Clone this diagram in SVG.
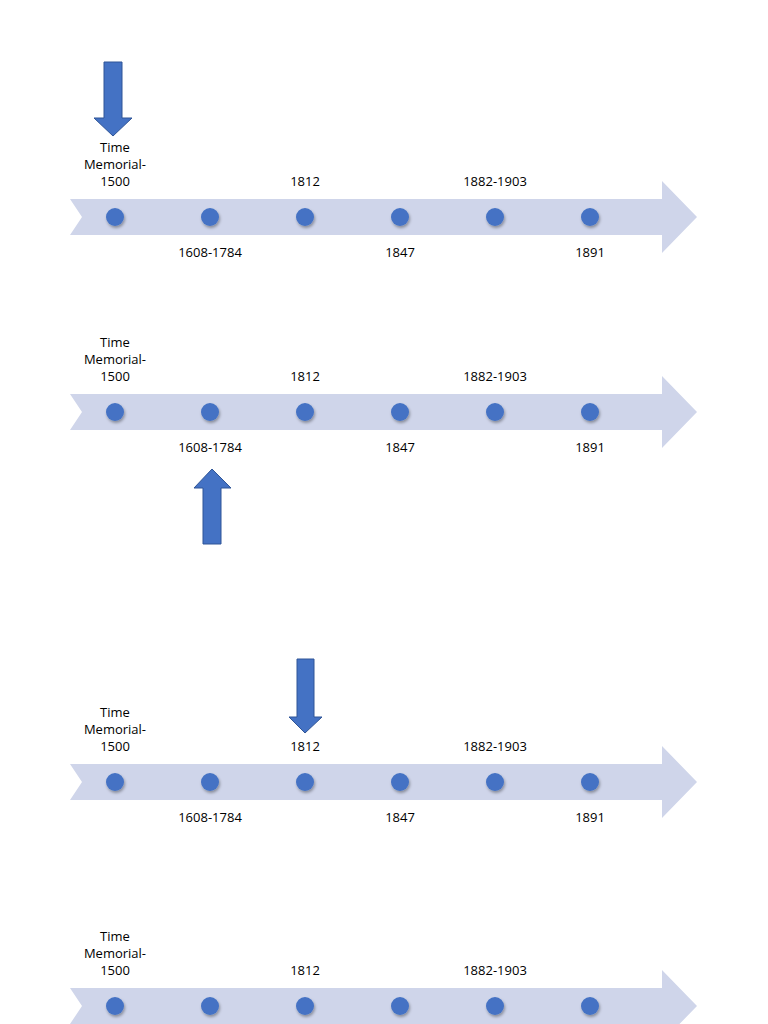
<svg xmlns="http://www.w3.org/2000/svg" width="768" height="1024" viewBox="0 0 768 1024">
<style>
.band{fill:#CFD5EA}
.dot{fill:#4472C4;filter:url(#sh)}
.t{font-family:"Open Sans","Liberation Sans",sans-serif;font-size:13px;fill:#000;text-anchor:middle}
.arr{fill:#4472C4;stroke:#2F5597;stroke-width:1}
</style>
<defs>
<filter id="sh" x="-50%" y="-50%" width="200%" height="200%"><feDropShadow dx="1" dy="2" stdDeviation="1.5" flood-color="#000" flood-opacity="0.35"/></filter>
<g id="tl">
<polygon class="band" points="70,-18 662,-18 662,-36 697,0 662,36 662,18 70,18 82,0"/>
<circle class="dot" cx="115" cy="0" r="9"/><circle class="dot" cx="210" cy="0" r="9"/><circle class="dot" cx="305" cy="0" r="9"/><circle class="dot" cx="400" cy="0" r="9"/><circle class="dot" cx="495" cy="0" r="9"/><circle class="dot" cx="590" cy="0" r="9"/>
<text class="t" x="115" y="-65">Time</text><text class="t" x="115" y="-48">Memorial-</text><text class="t" x="115" y="-31">1500</text>
<text class="t" x="305" y="-31">1812</text><text class="t" x="495" y="-31">1882-1903</text>
<text class="t" x="210" y="40">1608-1784</text><text class="t" x="400" y="40">1847</text><text class="t" x="590" y="40">1891</text>
</g>
</defs>
<g id="timeline1"><use href="#tl" y="217"/></g>
<g id="timeline2"><use href="#tl" y="412"/></g>
<g id="timeline3"><use href="#tl" y="782"/></g>
<g id="timeline4"><use href="#tl" y="1006"/></g>
<g id="connectors">
<polygon class="arr" points="104,62 122,62 122,118 132,118 113,136 94,118 104,118"/>
<polygon class="arr" points="203,544 221,544 221,488 231,488 212,469 194,488 203,488"/>
<polygon class="arr" points="297,659 314,659 314,717 322,717 305,733 289,717 297,717"/>
</g>
</svg>
